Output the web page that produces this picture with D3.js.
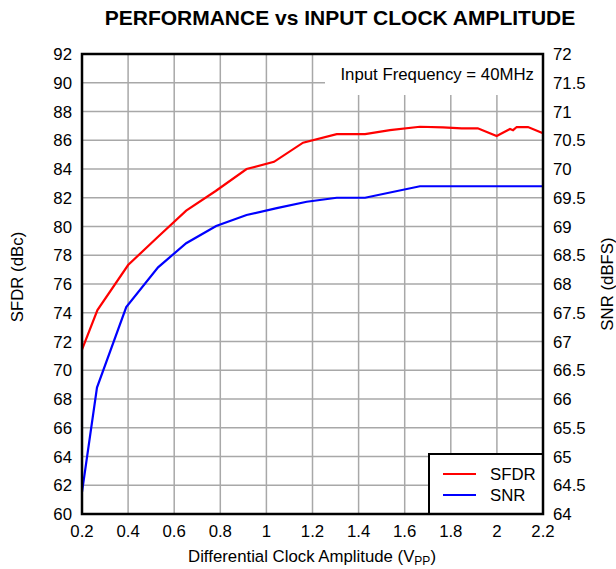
<!DOCTYPE html>
<html>
<head>
<meta charset="utf-8">
<script src="https://cdn.jsdelivr.net/npm/d3@7"></script>
<style>
  body { margin: 0; background: #fff; }
  svg text { font-family: "Liberation Sans", Arial, sans-serif; fill: #000; }
</style>
</head>
<body>
<div id="chart"></div>
<script>
// SFDR curve (dBc, left axis)
const sfdrX = [0.2, 0.267, 0.4, 0.53, 0.652, 0.78, 0.914, 1.033, 1.159, 1.305, 1.428, 1.536, 1.666, 1.766, 1.847, 1.917, 1.999, 2.057, 2.07, 2.086, 2.135, 2.2];
const sfdrY = [71.44, 74.19, 77.32, 79.29, 81.1, 82.47, 84.0, 84.5, 85.83, 86.43, 86.43, 86.7, 86.94, 86.9, 86.83, 86.83, 86.3, 86.78, 86.7, 86.92, 86.92, 86.48];

// SNR curve (dBFS, right axis)
const snrX = [0.2, 0.265, 0.392, 0.53, 0.652, 0.782, 0.914, 1.045, 1.175, 1.305, 1.428, 1.666, 2.2];
const snrY = [64.38, 66.2, 67.6, 68.29, 68.71, 69.01, 69.2, 69.32, 69.43, 69.5, 69.5, 69.7, 69.7];

const xTicks = [0.2, 0.4, 0.6, 0.8, 1, 1.2, 1.4, 1.6, 1.8, 2, 2.2];
const leftTicks = d3.range(60, 93, 2);
const rightTicks = d3.range(64, 72.01, 0.5);

const width = 616, height = 569;
const plot = { left: 82, right: 543, top: 54, bottom: 514 };
const fs = "16.8px";

const svg = d3.select("#chart").append("svg")
    .attr("width", width)
    .attr("height", height);

const x = d3.scaleLinear().domain([0.2, 2.2]).range([plot.left, plot.right]);
const yL = d3.scaleLinear().domain([60, 92]).range([plot.bottom, plot.top]);
const yR = d3.scaleLinear().domain([64, 72]).range([plot.bottom, plot.top]);

// grid
const grid = svg.append("g").attr("stroke", "#a8a8a8").attr("stroke-width", 1.5);
grid.selectAll(".vg").data(xTicks.slice(1, -1)).enter().append("line")
    .attr("x1", d => x(d)).attr("x2", d => x(d))
    .attr("y1", plot.top).attr("y2", plot.bottom);
grid.selectAll(".hg").data(leftTicks.slice(1, -1)).enter().append("line")
    .attr("x1", plot.left).attr("x2", plot.right)
    .attr("y1", d => yL(d)).attr("y2", d => yL(d));

// curves
const sfdrLine = d3.line().x(d => x(d[0])).y(d => yL(d[1]));
const snrLine = d3.line().x(d => x(d[0])).y(d => yR(d[1]));

svg.append("path")
    .datum(sfdrX.map((v, i) => [v, sfdrY[i]]))
    .attr("d", sfdrLine)
    .attr("fill", "none").attr("stroke", "#ff0000").attr("stroke-width", 2.2);

svg.append("path")
    .datum(snrX.map((v, i) => [v, snrY[i]]))
    .attr("d", snrLine)
    .attr("fill", "none").attr("stroke", "#0000ff").attr("stroke-width", 2.2);

// annotation box
svg.append("rect")
    .attr("x", 325).attr("y", plot.top).attr("width", plot.right - 325).attr("height", 41)
    .attr("fill", "#fff");
svg.append("text")
    .attr("x", 534).attr("y", 80)
    .attr("text-anchor", "end")
    .style("font-size", fs)
    .text("Input Frequency = 40MHz");

// legend
const leg = svg.append("g");
leg.append("rect")
    .attr("x", 429).attr("y", 454).attr("width", plot.right - 429).attr("height", plot.bottom - 454)
    .attr("fill", "#fff").attr("stroke", "#000").attr("stroke-width", 2);
const legItems = [["SFDR", "#ff0000"], ["SNR", "#0000ff"]];
legItems.forEach((d, i) => {
    const ly = 474 + i * 21;
    leg.append("line").attr("x1", 443).attr("x2", 476).attr("y1", ly).attr("y2", ly)
        .attr("stroke", d[1]).attr("stroke-width", 2.2);
    leg.append("text").attr("x", 490).attr("y", ly + 6)
        .style("font-size", fs).text(d[0]);
});

// frame
svg.append("rect")
    .attr("x", plot.left).attr("y", plot.top)
    .attr("width", plot.right - plot.left).attr("height", plot.bottom - plot.top)
    .attr("fill", "none").attr("stroke", "#000").attr("stroke-width", 2.5);

// tick labels
svg.append("g").selectAll("text").data(xTicks).enter().append("text")
    .attr("x", d => x(d)).attr("y", 537)
    .attr("text-anchor", "middle")
    .style("font-size", fs)
    .text(d => d3.format("~g")(d));

svg.append("g").selectAll("text").data(leftTicks).enter().append("text")
    .attr("x", 72).attr("y", d => yL(d) + 6)
    .attr("text-anchor", "end")
    .style("font-size", fs)
    .text(d => d);

svg.append("g").selectAll("text").data(rightTicks).enter().append("text")
    .attr("x", 553).attr("y", d => yR(d) + 6)
    .attr("text-anchor", "start")
    .style("font-size", fs)
    .text(d => d3.format("~g")(d));

// titles
svg.append("text")
    .attr("x", 340).attr("y", 25)
    .attr("text-anchor", "middle")
    .style("font-size", "21px").style("font-weight", "bold")
    .text("PERFORMANCE vs INPUT CLOCK AMPLITUDE");

const xl = svg.append("text")
    .attr("x", 312).attr("y", 562)
    .attr("text-anchor", "middle")
    .style("font-size", fs);
xl.append("tspan").text("Differential Clock Amplitude (V");
xl.append("tspan").attr("dy", 3).style("font-size", "12px").text("PP");
xl.append("tspan").attr("dy", -3).text(")");

svg.append("text")
    .attr("transform", "translate(23,277) rotate(-90)")
    .attr("text-anchor", "middle")
    .style("font-size", fs)
    .text("SFDR (dBc)");

svg.append("text")
    .attr("transform", "translate(613,284) rotate(-90)")
    .attr("text-anchor", "middle")
    .style("font-size", fs)
    .text("SNR (dBFS)");
</script>
</body>
</html>
